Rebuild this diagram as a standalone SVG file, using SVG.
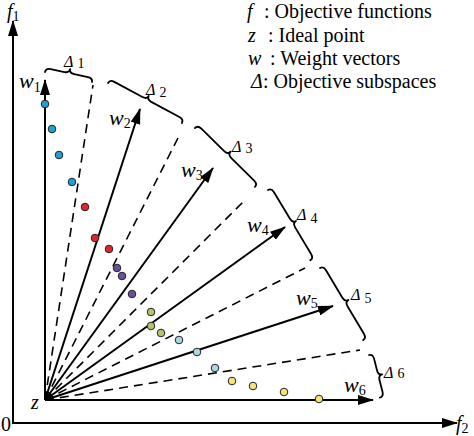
<svg xmlns="http://www.w3.org/2000/svg" width="474" height="436" viewBox="0 0 474 436">
<style>
.ax{stroke:#000;stroke-width:2;fill:none}
.vec{stroke:#000;stroke-width:2;fill:none;marker-end:url(#ah)}
.dash{stroke:#000;stroke-width:1.6;fill:none;stroke-dasharray:9 6}
.br{stroke:#000;stroke-width:1.8;fill:none;stroke-linecap:round;stroke-linejoin:round}
.pt{stroke:#222;stroke-width:1}
.t{font-family:"Liberation Serif","Times New Roman",serif;fill:#000}
.it{font-style:italic}
.lg{font-size:20px}
.w{font-size:22px;font-style:italic}
.d{font-size:16px;font-style:italic}
.s{font-size:14px;font-style:normal}
.c1{fill:#1e9fd6}.c2{fill:#e3232b}.c3{fill:#6a4f9d}.c4{fill:#b5c26a}.c5{fill:#a9d7e4}.c6{fill:#f6e47a}
</style>
<defs>
<marker id="ah" markerUnits="userSpaceOnUse" markerWidth="16" markerHeight="10" viewBox="0 0 16 10" refX="15" refY="5" orient="auto">
<path d="M0,0 L16,5 L0,10 Z" fill="#000"/>
</marker>
</defs>

<g id="axes">
<line class="vec" x1="13" y1="424" x2="13" y2="21"/>
<line class="vec" x1="12" y1="423" x2="457" y2="423"/>
<text class="t lg it" x="7" y="18">f<tspan class="s" dy="3">1</tspan></text>
<text class="t lg it" x="456" y="430">f<tspan class="s" dy="3">2</tspan></text>
<text class="t lg" x="1" y="431">0</text>
<text class="t lg it" x="31" y="409">z</text>
</g>

<g id="connectors">
<line class="vec" x1="45" y1="400" x2="45" y2="80"/>
<line class="vec" x1="45" y1="400" x2="140" y2="109"/>
<line class="vec" x1="45" y1="400" x2="213" y2="168"/>
<line class="vec" x1="45" y1="400" x2="285" y2="227"/>
<line class="vec" x1="45" y1="400" x2="333" y2="306"/>
<line class="vec" x1="45" y1="400" x2="373" y2="400"/>
<line class="dash" x1="45" y1="400" x2="93" y2="85"/>
<line class="dash" x1="45" y1="400" x2="178" y2="138"/>
<line class="dash" x1="45" y1="400" x2="243" y2="202"/>
<line class="dash" x1="45" y1="400" x2="305" y2="268"/>
<line class="dash" x1="45" y1="400" x2="360" y2="350"/>
</g>

<g id="braces">
<path class="br" transform="translate(45,72) rotate(12)" d="M0,0 Q0,-4 5,-4 L19,-4 Q24,-4 24,-8 Q24,-4 29,-4 L43,-4 Q48,-4 48,0"/>
<path class="br" transform="translate(108,83) rotate(28.4)" d="M0,0 Q0,-4 5,-4 L37,-4 Q42,-4 42,-8 Q42,-4 47,-4 L79,-4 Q84,-4 84,0"/>
<path class="br" transform="translate(195,128) rotate(44.5)" d="M0,0 Q0,-4 5,-4 L37,-4 Q42,-4 42,-8 Q42,-4 47,-4 L79,-4 Q84,-4 84,0"/>
<path class="br" transform="translate(268,190) rotate(59)" d="M0,0 Q0,-4 5,-4 L36,-4 Q41,-4 41,-8 Q41,-4 46,-4 L77,-4 Q82,-4 82,0"/>
<path class="br" transform="translate(320,268) rotate(59.2)" d="M0,0 Q0,-4 5,-4 L37,-4 Q42,-4 42,-8 Q42,-4 47,-4 L79,-4 Q84,-4 84,0"/>
<path class="br" transform="translate(369,355) rotate(75.7)" d="M0,0 Q0,-4 5,-4 L17,-4 Q22,-4 22,-8 Q22,-4 27,-4 L39,-4 Q44,-4 44,0"/>
</g>

<g id="points">
<circle class="pt c1" cx="45" cy="104" r="3.8"/>
<circle class="pt c1" cx="52" cy="129" r="3.8"/>
<circle class="pt c1" cx="59" cy="155" r="3.8"/>
<circle class="pt c1" cx="72" cy="182" r="3.8"/>
<circle class="pt c2" cx="85" cy="207" r="3.8"/>
<circle class="pt c2" cx="95" cy="238" r="3.8"/>
<circle class="pt c2" cx="109" cy="249" r="3.8"/>
<circle class="pt c3" cx="117" cy="268" r="3.8"/>
<circle class="pt c3" cx="122" cy="276" r="3.8"/>
<circle class="pt c3" cx="132" cy="294" r="3.8"/>
<circle class="pt c4" cx="151" cy="312" r="3.8"/>
<circle class="pt c4" cx="151" cy="326" r="3.8"/>
<circle class="pt c4" cx="161" cy="333" r="3.8"/>
<circle class="pt c5" cx="179" cy="340" r="3.8"/>
<circle class="pt c5" cx="197" cy="352" r="3.8"/>
<circle class="pt c5" cx="215" cy="368" r="3.8"/>
<circle class="pt c6" cx="232" cy="381" r="3.8"/>
<circle class="pt c6" cx="253" cy="386" r="3.8"/>
<circle class="pt c6" cx="284" cy="392" r="3.8"/>
<circle class="pt c6" cx="319" cy="399" r="3.8"/>
</g>

<g id="labels">
<text class="t w" x="19" y="88">w<tspan class="s" dy="4">1</tspan></text>
<text class="t w" x="109" y="125">w<tspan class="s" dy="3">2</tspan></text>
<text class="t w" x="181" y="177">w<tspan class="s" dy="3">3</tspan></text>
<text class="t w" x="247" y="232">w<tspan class="s" dy="3">4</tspan></text>
<text class="t w" x="296" y="305">w<tspan class="s" dy="3">5</tspan></text>
<text class="t w" x="344" y="392">w<tspan class="s" dy="3">6</tspan></text>
<text class="t d" x="64" y="67">Δ<tspan class="s" dx="4" dy="1">1</tspan></text>
<text class="t d" x="146" y="95">Δ<tspan class="s" dx="4" dy="2">2</tspan></text>
<text class="t d" x="232" y="152">Δ<tspan class="s" dx="4" dy="1">3</tspan></text>
<text class="t d" x="297" y="220">Δ<tspan class="s" dx="4" dy="3">4</tspan></text>
<text class="t d" x="351" y="300">Δ<tspan class="s" dx="4" dy="3">5</tspan></text>
<text class="t d" x="384" y="378">Δ<tspan class="s" dx="4" dy="0">6</tspan></text>
</g>

<g id="legend">
<text class="t lg" y="18"><tspan class="it" x="247">f</tspan><tspan x="264">: Objective functions</tspan></text>
<text class="t lg" y="41.5"><tspan class="it" x="248">z</tspan><tspan x="268">: Ideal point</tspan></text>
<text class="t lg" y="65"><tspan class="it" x="248">w</tspan><tspan x="270">: Weight vectors</tspan></text>
<text class="t lg" y="88"><tspan class="it" x="251">Δ</tspan><tspan x="263">: Objective subspaces</tspan></text>
</g>
</svg>
